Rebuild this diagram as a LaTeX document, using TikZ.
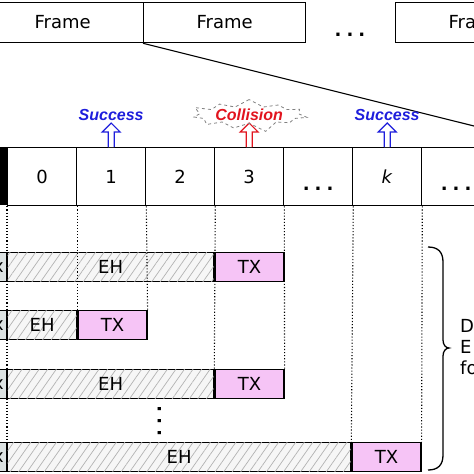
\documentclass[tikz,border=0pt]{standalone}
\usepackage{fontspec}
\setmainfont{DejaVu Sans}
\newfontfamily\labelfont{Liberation Sans}
\usetikzlibrary{shapes.symbols,patterns.meta,positioning}

\definecolor{txpink}{RGB}{246,196,246}
\definecolor{rxgray}{RGB}{220,226,226}
\definecolor{ehgray}{RGB}{246,246,246}
\definecolor{okblue}{RGB}{30,30,220}
\definecolor{badred}{RGB}{225,20,30}

\newcommand{\bigdots}{\textbf{.\kern5pt.\kern5pt.}}

\tikzset{
  box/.style={draw, line width=1.3pt, inner sep=0pt, font=\fontsize{18}{21}\selectfont},
  slotbox/.style={box, minimum width=69pt, minimum height=58pt, anchor=north west, text depth=0pt},
  framebox/.style={box, minimum width=162pt, minimum height=40.5pt, anchor=north west},
  ehbox/.style={box, fill=ehgray, postaction={pattern={Lines[angle=55,distance=7pt,line width=0.7pt]}, pattern color=gray!60}, minimum height=29pt, anchor=north west},
  txbox/.style={box, fill=txpink, minimum width=69pt, minimum height=29pt},
  rxbox/.style={box, fill=rxgray, minimum width=16pt, minimum height=29pt, anchor=north east},
  guide/.style={dotted, line width=1.1pt},
  status/.style={inner sep=0pt, font=\labelfont\fontsize{16}{18}\selectfont\bfseries\itshape},
  pics/hollowup/.style={code={
    \draw[line width=1.2pt, fill=white, pic actions] (-3,0) -- (-3,-15) -- (-9,-15) -- (0,-24) -- (9,-15) -- (3,-15) -- (3,0);
  }}
}

\begin{document}
\begin{tikzpicture}[x=1pt, y=-1pt]
  \useasboundingbox (0,0) rectangle (474,474);
  \clip (0,0) rectangle (474,474);

  % frames
  \node[framebox] (frame1) at (-19,1.5) {Frame};
  \node[framebox] (frame2) at (143,1.5) {Frame};
  \node[framebox] (frame3) at (395,1.5) {Frame};
  \node[font=\fontsize{18}{21}\selectfont, anchor=base, inner sep=0pt] (framedots) at (350,36) {\bigdots};
  \coordinate (zoomend) at (480,127.5);
  \draw[line width=1.1pt] (frame2.south west) -- (zoomend);

  % slots
  \fill (0,147) rectangle (7,205);
  \foreach \i/\lab/\th in {0/0/13pt, 1/1/13pt, 2/2/13pt, 3/3/13pt, 4/\bigdots/28pt, 5/\textit{k}/13pt, 6/\bigdots/28pt}
    \node[slotbox, text height=\th] (slot\i) at ({7+69*\i},147) {\lab};

  % feedback
  \pic[draw=okblue] at (slot1.north) {hollowup};
  \pic[draw=badred] at (slot3.north) {hollowup};
  \pic[draw=okblue] at (slot5.north) {hollowup};
  \node[status, text=okblue, above=32pt of slot1.north, anchor=center] (ok1) {Success};
  \node[status, text=badred, starburst, starburst points=11, starburst point height=10pt,
        draw=gray, dashed, line width=0.8pt, minimum width=120pt, minimum height=26pt,
        above=32pt of slot3.north, anchor=center] (coll) {Collision};
  \node[status, text=okblue, above=32pt of slot5.north, anchor=center] (ok2) {Success};

  % devices
  \node[ehbox, minimum width=206pt] (eh1) at (7,252) {EH};
  \node[txbox, right=0pt of eh1] (tx1) {TX};
  \node[rxbox] (rx1) at (eh1.north west) {x};

  \node[ehbox, minimum width=69pt] (eh2) at (7,310) {EH};
  \node[txbox, right=0pt of eh2] (tx2) {TX};
  \node[rxbox] (rx2) at (eh2.north west) {x};

  \node[ehbox, minimum width=206pt] (eh3) at (7,369) {EH};
  \node[txbox, right=0pt of eh3] (tx3) {TX};
  \node[rxbox] (rx3) at (eh3.north west) {x};

  \node[font=\fontsize{18}{21}\selectfont, inner sep=0pt, rotate=90] (vdots) at (160,421) {\bigdots};

  \node[ehbox, minimum width=343pt] (eh4) at (7,442) {EH};
  \node[txbox, right=0pt of eh4] (tx4) {TX};
  \node[rxbox] (rx4) at (eh4.north west) {x};

  % guides
  \draw[guide] (slot0.south west) -- (eh4.south west);
  \draw[guide] (slot0.south east) -- (tx2.north west);
  \draw[guide] (slot1.south east) -- (tx2.north east);
  \draw[guide] (slot2.south east) -- (tx3.north west);
  \draw[guide] (slot3.south east) -- (tx3.north east);
  \draw[guide] (slot4.south east) -- (tx4.north west);
  \draw[guide] (slot5.south east) -- (tx4.north east);

  % brace
  \draw[line width=1.3pt] (428,247) .. controls (438,247) and (443,252) .. (443,262) -- (443,340)
    .. controls (443,345) and (446,348) .. (449,348) .. controls (446,348) and (443,351) .. (443,356)
    -- (443,455) .. controls (443,465) and (438,470) .. (428,470);
  \node[font=\fontsize{18}{21}\selectfont, align=left, anchor=north west, inner sep=0pt] (note) at (460,319) {D\\E\\fo};
\end{tikzpicture}
\end{document}
